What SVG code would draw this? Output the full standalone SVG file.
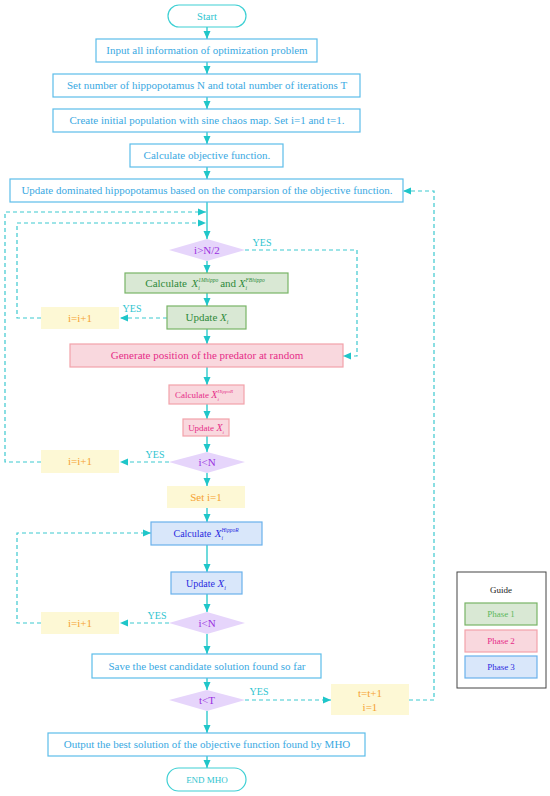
<svg xmlns="http://www.w3.org/2000/svg" width="550" height="796" viewBox="0 0 550 796">
<defs>
<marker id="arr" markerUnits="userSpaceOnUse" markerWidth="8" markerHeight="8" viewBox="0 0 8 8" refX="8" refY="4" orient="auto">
<path d="M0,0.5 L8,4 L0,7.5 Z" fill="#1fc6c9" stroke="none"/>
</marker>
<style>
text{font-family:"Liberation Serif","Times New Roman",serif;text-anchor:middle}
.main rect{fill:#fff;stroke:#5cbde9;stroke-width:1.2}
.main text{fill:#3aa9e2;font-size:11px}
.term rect{fill:#fff;stroke:#3fd0d4;stroke-width:1.2}
.term text{fill:#2ec4cf}
.green rect{fill:#d9e8d4;stroke:#78b466;stroke-width:1.2}
.green text{fill:#2f8a3b;font-size:11px}
.pink rect{fill:#f9d8de;stroke:#f2a2aa;stroke-width:1.2}
.pink text{fill:#e62d88;font-size:9px}
.pink text.big{font-size:11px}
.blue rect{fill:#d9e7fa;stroke:#69b1ec;stroke-width:1.2}
.blue text{fill:#2b2be0;font-size:10px}
.yel rect{fill:#fdf8d5;stroke:none}
.yel text{fill:#f5a233;font-size:11px}
.dia polygon{fill:#e6d5fb;stroke:none}
.dia text{fill:#9a30e0;font-size:11px}
.solid line{stroke:#1fc6c9;stroke-width:1.3;fill:none}
.dash path{stroke:#3cc9cf;stroke-width:1.2;stroke-dasharray:4,3;fill:none}
.lbl{fill:#2ec4cf;font-size:10px}
.it{font-style:italic}
.guide rect.frame{fill:#fff;stroke:#444;stroke-width:1}
.guide text.g{font-size:9px}
</style>
</defs>

<g id="connectors">
<g class="solid">
<line x1="207" y1="27" x2="207" y2="39" marker-end="url(#arr)"/>
<line x1="207" y1="62" x2="207" y2="74" marker-end="url(#arr)"/>
<line x1="207" y1="97" x2="207" y2="109" marker-end="url(#arr)"/>
<line x1="207" y1="132" x2="207" y2="144" marker-end="url(#arr)"/>
<line x1="207" y1="167" x2="207" y2="179" marker-end="url(#arr)"/>
<line x1="207" y1="202" x2="207" y2="239" marker-end="url(#arr)"/>
<line x1="207" y1="261" x2="207" y2="273" marker-end="url(#arr)"/>
<line x1="207" y1="293" x2="207" y2="306" marker-end="url(#arr)"/>
<line x1="207" y1="329" x2="207" y2="344" marker-end="url(#arr)"/>
<line x1="207" y1="367" x2="207" y2="385" marker-end="url(#arr)"/>
<line x1="207" y1="404" x2="207" y2="419" marker-end="url(#arr)"/>
<line x1="207" y1="436" x2="207" y2="452" marker-end="url(#arr)"/>
<line x1="207" y1="473" x2="207" y2="486" marker-end="url(#arr)"/>
<line x1="207" y1="508" x2="207" y2="522" marker-end="url(#arr)"/>
<line x1="207" y1="545" x2="207" y2="572" marker-end="url(#arr)"/>
<line x1="207" y1="594" x2="207" y2="612" marker-end="url(#arr)"/>
<line x1="207" y1="634" x2="207" y2="654" marker-end="url(#arr)"/>
<line x1="207" y1="678" x2="207" y2="690" marker-end="url(#arr)"/>
<line x1="207" y1="711" x2="207" y2="733" marker-end="url(#arr)"/>
<line x1="207" y1="756" x2="207" y2="768" marker-end="url(#arr)"/>
</g>
<g class="dash">
<path d="M245,250 H357 V356 H343" marker-end="url(#arr)"/>
<path d="M167,318 H120" marker-end="url(#arr)"/>
<path d="M41,318 H17 V223 H206" marker-end="url(#arr)"/>
<path d="M169,462 H120" marker-end="url(#arr)"/>
<path d="M41,462 H5 V212 H206" marker-end="url(#arr)"/>
<path d="M169,623 H120" marker-end="url(#arr)"/>
<path d="M41,623 H17 V533 H151" marker-end="url(#arr)"/>
<path d="M245,700 H331" marker-end="url(#arr)"/>
<path d="M409,700 H434 V191 H403" marker-end="url(#arr)"/>
</g>
<text class="lbl" x="262" y="246">YES</text>
<text class="lbl" x="132" y="312">YES</text>
<text class="lbl" x="155" y="458">YES</text>
<text class="lbl" x="157" y="619">YES</text>
<text class="lbl" x="259" y="695">YES</text>
</g>

<g id="start" class="term">
<rect x="168" y="5" width="78" height="22" rx="11"/>
<text x="207" y="20" font-size="10.5">Start</text>
</g>
<g id="input" class="main">
<rect x="96" y="39" width="221" height="23"/>
<text x="207" y="54">Input all information of optimization problem</text>
</g>
<g id="setN" class="main">
<rect x="53" y="74" width="307" height="23"/>
<text x="207" y="89">Set number of hippopotamus N and total number of iterations T</text>
</g>
<g id="init" class="main">
<rect x="53" y="109" width="307" height="23"/>
<text x="207" y="124">Create initial population with sine chaos map. Set i=1 and t=1.</text>
</g>
<g id="calcobj" class="main">
<rect x="130" y="144" width="153" height="23"/>
<text x="207" y="159">Calculate objective function.</text>
</g>
<g id="update-dom" class="main">
<rect x="10" y="179" width="393" height="23"/>
<text x="207" y="194">Update dominated hippopotamus based on the comparsion of the objective function.</text>
</g>
<g id="d1" class="dia">
<polygon points="169,250 207,239 245,250 207,261"/>
<text x="207" y="254">i&gt;N/2</text>
</g>
<g id="g-calc" class="green">
<rect x="125" y="273" width="163" height="20"/>
<text x="205" y="287">Calculate <tspan class="it" dx="2">X</tspan><tspan class="it" font-size="5.5" dy="2.5">i</tspan><tspan class="it" font-size="5.5" dx="-1.6" dy="-8">1Mhippo</tspan><tspan dy="5.5" dx="2">and </tspan><tspan class="it">X</tspan><tspan class="it" font-size="5.5" dy="2.5">i</tspan><tspan class="it" font-size="5.5" dx="-1.6" dy="-8">FBhippo</tspan></text>
</g>
<g id="g-update" class="green">
<rect x="167" y="306" width="79" height="23"/>
<text x="207" y="321">Update <tspan class="it">X</tspan><tspan class="it" font-size="6" dy="2.5">i</tspan></text>
</g>
<g id="y1" class="yel">
<rect x="41" y="307" width="78" height="22"/>
<text x="80" y="322">i=i+1</text>
</g>
<g id="p-gen" class="pink">
<rect x="70" y="344" width="273" height="23"/>
<text class="big" x="207" y="359">Generate position of the predator at random</text>
</g>
<g id="p-calc" class="pink">
<rect x="169" y="385" width="75" height="19"/>
<text x="204" y="398">Calculate <tspan class="it" font-size="10">X</tspan><tspan class="it" font-size="5" dy="2.5">i</tspan><tspan class="it" font-size="5" dx="-1.4" dy="-8">HippoR</tspan></text>
</g>
<g id="p-update" class="pink">
<rect x="183" y="419" width="46" height="17"/>
<text x="206" y="431">Update <tspan class="it" font-size="10">X</tspan><tspan class="it" font-size="5" dy="2.5">i</tspan></text>
</g>
<g id="d2" class="dia">
<polygon points="169,462 207,452 245,462 207,473"/>
<text x="207" y="466">i&lt;N</text>
</g>
<g id="y2" class="yel">
<rect x="41" y="450" width="78" height="23"/>
<text x="80" y="465">i=i+1</text>
</g>
<g id="set1" class="yel">
<rect x="167" y="486" width="78" height="22"/>
<text x="206" y="501">Set i=1</text>
</g>
<g id="b-calc" class="blue">
<rect x="151" y="522" width="111" height="23"/>
<text x="206" y="537">Calculate <tspan class="it" font-size="11" dx="1">X</tspan><tspan class="it" font-size="5.5" dy="2.5">i</tspan><tspan class="it" font-size="5.5" dx="-1.6" dy="-8">HippoR</tspan></text>
</g>
<g id="b-update" class="blue">
<rect x="171" y="572" width="71" height="22"/>
<text x="206" y="587">Update <tspan class="it" font-size="11">X</tspan><tspan class="it" font-size="6" dy="2.5">i</tspan></text>
</g>
<g id="d3" class="dia">
<polygon points="169,623 207,612 245,623 207,634"/>
<text x="207" y="627">i&lt;N</text>
</g>
<g id="y3" class="yel">
<rect x="41" y="612" width="78" height="22"/>
<text x="80" y="627">i=i+1</text>
</g>
<g id="save" class="main">
<rect x="92" y="654" width="229" height="24"/>
<text x="207" y="670">Save the best candidate solution found so far</text>
</g>
<g id="d4" class="dia">
<polygon points="169,700 207,690 245,700 207,711"/>
<text x="207" y="704">t&lt;T</text>
</g>
<g id="y4" class="yel">
<rect x="331" y="684" width="78" height="31"/>
<text x="370" y="697">t=t+1</text>
<text x="370" y="711">i=1</text>
</g>
<g id="output" class="main">
<rect x="48" y="733" width="317" height="23"/>
<text x="207" y="748">Output the best solution of the objective function found by MHO</text>
</g>
<g id="end" class="term">
<rect x="167" y="768" width="79" height="23" rx="11.5"/>
<text x="207" y="783" font-size="9">END MHO</text>
</g>

<g id="guide" class="guide">
<rect class="frame" x="457" y="572" width="89" height="116"/>
<text class="g" x="501" y="593" fill="#222">Guide</text>
<g class="green"><rect x="465" y="603" width="72" height="22"/><text class="g" x="501" y="617" style="fill:#5cb85c">Phase 1</text></g>
<g class="pink"><rect x="465" y="630" width="72" height="22"/><text class="g" x="501" y="644">Phase 2</text></g>
<g class="blue"><rect x="465" y="656" width="72" height="22"/><text class="g" x="501" y="670">Phase 3</text></g>
</g>
</svg>
